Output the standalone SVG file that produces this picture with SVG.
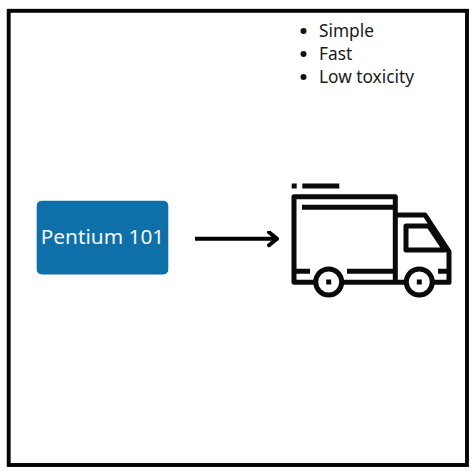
<svg xmlns="http://www.w3.org/2000/svg" width="474" height="474" viewBox="0 0 474 474">
<style>
.t{font-family:"Noto Sans","Open Sans",sans-serif}
.b{font-size:17.300px;fill:#1a1a1a}
.l{fill:none;stroke:#0a0a0a;stroke-width:5;stroke-linejoin:round}
</style>
<defs><marker id="a" markerUnits="userSpaceOnUse" markerWidth="14" markerHeight="18" refX="11" refY="8" orient="auto"><path d="M2 1.500L10 8L2 14.500" fill="none" stroke="#000" stroke-width="4" stroke-linecap="round" stroke-linejoin="round"/></marker></defs>
<rect width="474" height="474" fill="#fff"/>
<rect x="8.700" y="10.800" width="458.300" height="454.200" fill="none" stroke="#050505" stroke-width="3.900"/>
<g id="connectors"><path d="M195 238.700H278" fill="none" stroke="#000" stroke-width="4" marker-end="url(#a)"/></g>
<g id="node-pentium"><rect x="36.700" y="200.700" width="131.600" height="73.800" rx="5" fill="#0f6fa8"/><text class="t" x="102.500" y="244.300" text-anchor="middle" font-size="20.800" fill="#f2f8fc">Pentium 101</text></g>
<g id="node-list">
<circle cx="303.500" cy="31" r="3" fill="#111"/><circle cx="303.500" cy="54" r="3" fill="#111"/><circle cx="303.500" cy="77" r="3" fill="#111"/>
<text class="t b" x="319" y="36.800">Simple</text><text class="t b" x="319" y="59.500">Fast</text><text class="t b" x="319" y="82.500">Low toxicity</text>
</g>
<g id="node-truck">
<path class="l" d="M291.700 186H296.700M302.300 186H339.300M302 207.300H393M315 282.300H294V196.700H395.300V282.300M342 282.300H406M395.300 215H425L449 251.700V282.300H432M406 226H429L445 250H406ZM296 271.300H310M347 271.300H393M438 271.300H447"/>
<circle class="l" cx="328.700" cy="282" r="13"/><circle class="l" cx="419.300" cy="282" r="13"/>
<rect x="326.200" y="279.500" width="5" height="5" fill="#0a0a0a"/><rect x="416.800" y="279.500" width="5" height="5" fill="#0a0a0a"/>
</g>
</svg>
